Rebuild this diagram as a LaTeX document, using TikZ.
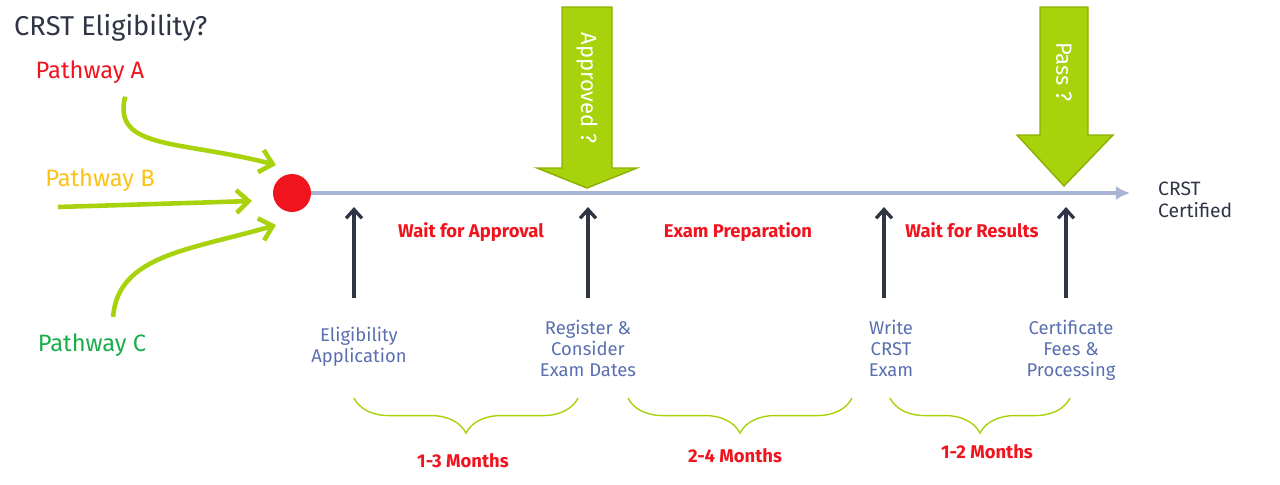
\documentclass[tikz,border=0pt]{standalone}
\usepackage{fontspec}
\setmainfont{Fira Sans}
\usetikzlibrary{positioning,arrows.meta,decorations.pathreplacing}
\definecolor{lime}{HTML}{A8D20C}
\definecolor{limedark}{HTML}{8CB000}
\definecolor{axis}{HTML}{A9B3D6}
\definecolor{steel}{HTML}{2F3545}
\definecolor{labelblue}{HTML}{5A6FB0}
\definecolor{pathred}{HTML}{F0141E}
\definecolor{pathyellow}{HTML}{FBC21A}
\definecolor{pathgreen}{HTML}{19AE4B}
\tikzset{
  stage/.style={text=labelblue, align=center, font=\fontsize{10.5}{12}\selectfont},
  phase/.style={text=pathred, font=\fontsize{10.5}{12}\selectfont\bfseries},
  path label/.style={font=\fontsize{13.5}{15}\selectfont},
  feed/.style={lime, line width=2.6pt, -{Straight Barb[length=7pt,width=13pt]}},
  milestone/.style={steel, line width=1.9pt, -{Straight Barb[length=5pt,width=9pt]}},
  span/.style={lime, thick, decorate, decoration={brace, mirror, amplitude=20pt}},
  gate/.style={fill=lime, draw=limedark, line width=0.8pt}
}
\begin{document}
\begin{tikzpicture}[x=0.02cm, y=-0.02cm]
\useasboundingbox (0,0) rectangle (1280,484);

% title and pathways
\node[anchor=west, text=steel, font=\fontsize{15.5}{17}\selectfont] (title) at (8,28) {CRST Eligibility?};
\node[path label, text=pathred] (pa) at (90,72) {Pathway A};
\node[path label, text=pathyellow] (pb) at (100,180) {Pathway B};
\node[path label, text=pathgreen] (pc) at (92,345) {Pathway C};

% start point and timeline
\node[circle, fill=pathred, minimum size=0.76cm, inner sep=0pt] (start) at (292,193) {};
\coordinate (end) at (1130,193);
\node[anchor=west, text=steel, align=left, font=\fontsize{11}{12.5}\selectfont] (cert) at (1152,200) {CRST\\Certified};
\draw[axis, line width=2.2pt, -{Latex[length=8pt,width=8pt]}] (start.east) -- (end);

\coordinate (ina) at (276,165);
\coordinate (inb) at (252,201);
\coordinate (inc) at (276,225);
\draw[feed] ([xshift=20pt,yshift=-4pt]pa.south) .. controls (112,150) and (180,140) .. (ina);
\draw[feed] (58,207) -- (inb);
\draw[feed] ([xshift=12pt,yshift=6pt]pc.north) .. controls (118,255) and (190,250) .. (inc);

% decision gates
\draw[gate] (562,7) -- (612,7) -- (612,168) -- (637,168) -- (587,188) -- (537,168) -- (562,168) -- cycle;
\node[rotate=-90, text=white, font=\fontsize{12.5}{14}\selectfont] (approved) at (587,88) {Approved ?};
\draw[gate] (1040,7) -- (1088,7) -- (1088,135) -- (1113,135) -- (1064,186) -- (1017,135) -- (1040,135) -- cycle;
\node[rotate=-90, text=white, font=\fontsize{12.5}{14}\selectfont] (pass) at (1064,72) {Pass ?};

% milestones
\node[stage] (s1) at (359,347) {Eligibility\\Application};
\node[stage] (s2) at (588,348) {Register \&\\Consider\\Exam Dates};
\node[stage] (s3) at (891,348) {Write\\CRST\\Exam};
\node[stage] (s4) at (1071,350) {Certificate\\Fees \&\\Processing};
\draw[milestone] (354,298) -- (354,207);
\draw[milestone] (588,298) -- (588,207);
\draw[milestone] (884,298) -- (884,207);
\draw[milestone] (1066,298) -- (1066,207);

\node[phase] (p1) at (471,232) {Wait for Approval};
\node[phase] (p2) at (738,232) {Exam Preparation};
\node[phase] (p3) at (972,230) {Wait for Results};

% durations
\draw[span] (354,398) -- (578,398);
\draw[span] (628,398) -- (852,398);
\draw[span] (890,398) -- (1070,398);
\node[phase] (d1) at (463,461) {1-3 Months};
\node[phase] (d2) at (735,456) {2-4 Months};
\node[phase] (d3) at (987,452) {1-2 Months};
\end{tikzpicture}
\end{document}
